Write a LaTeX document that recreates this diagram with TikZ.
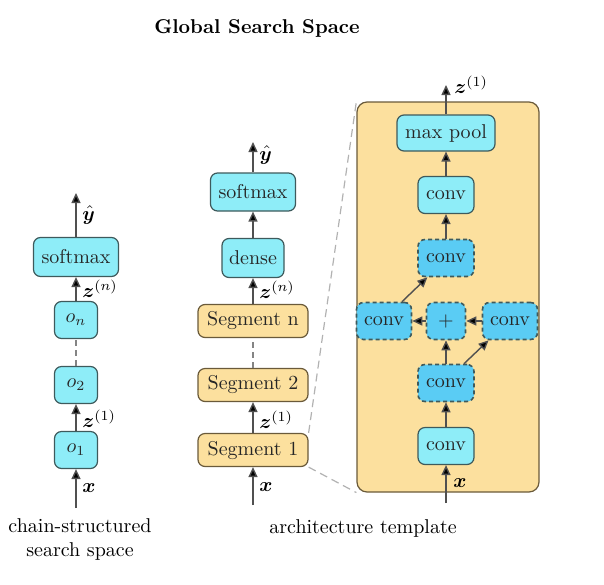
\documentclass[tikz,border=0pt]{standalone}
\usepackage{amsmath,bm}
\usetikzlibrary{arrows.meta,calc}
\definecolor{cyanc}{HTML}{8EEDF8}
\definecolor{bluec}{HTML}{5ACCF4}
\definecolor{orangec}{HTML}{FCE09E}
\definecolor{bordc}{HTML}{3E5A5C}
\definecolor{segbord}{HTML}{6A5A3A}
\definecolor{linec}{HTML}{505050}
\tikzset{
  base/.style={rounded corners=3.5pt, draw=bordc, line width=0.6pt, inner sep=2pt, minimum height=18.5pt, text=black!85},
  op/.style={base, fill=cyanc},
  dop/.style={base, fill=bluec, dashed, dash pattern=on 2pt off 1.5pt, line width=0.8pt},
  seg/.style={base, fill=orangec, draw=segbord, minimum height=16.5pt, minimum width=55pt},
  conn/.style={draw=linec, line width=0.7pt, -{Triangle[length=5pt,width=4.5pt,fill=black]}},
  dconn/.style={draw=linec!70, line width=0.7pt, dashed, dash pattern=on 3pt off 2pt},
  zoomline/.style={draw=gray!60, line width=0.6pt, dashed, dash pattern=on 4pt off 2.5pt},
  lab/.style={anchor=west, inner sep=0pt}
}
\begin{document}
\begin{tikzpicture}[x=0.5pt,y=-0.5pt]
\useasboundingbox (0,0) rectangle (604,584);
\node[font=\bfseries] (title) at (257,28) {Global Search Space};

% left column
\coordinate (lx) at (76,508);
\node[op, minimum width=21.5pt] (o1) at (76,450) {$o_1$};
\node[op, minimum width=21.5pt] (o2) at (76,385) {$o_2$};
\node[op, minimum width=21.5pt] (on) at (76,320) {$o_n$};
\node[op, minimum width=42.5pt, minimum height=19.5pt] (lsm) at (76,257) {softmax};
\coordinate (ly) at (76,193);
\draw[conn] (lx) -- (o1);
\draw[conn] (o1) -- (o2);
\draw[dconn] (o2) -- (on);
\draw[conn] (on) -- (lsm);
\draw[conn] (lsm) -- (ly);
\node[lab] (lxl) at (82,488) {$\bm{x}$};
\node[lab] (lz1) at (82,419) {$\bm{z}^{(1)}$};
\node[lab] (lzn) at (82,289) {$\bm{z}^{(n)}$};
\node[lab] (lyl) at (82,215) {$\hat{\bm{y}}$};
\node[align=center] (cap1) at (80,539) {chain-structured\\search space};

% middle column
\coordinate (mx) at (253,505);
\node[seg] (seg1) at (253,450) {Segment 1};
\node[seg] (seg2) at (253,385) {Segment 2};
\node[seg] (segn) at (253,321) {Segment n};
\node[op, minimum width=31pt, minimum height=19.5pt] (dense) at (253,258) {dense};
\node[op, minimum width=42.5pt, minimum height=19pt] (msm) at (253,192) {softmax};
\coordinate (my) at (253,142);
\draw[conn] (mx) -- (seg1);
\draw[conn] (seg1) -- (seg2);
\draw[dconn] (seg2) -- (segn);
\draw[conn] (segn) -- (dense);
\draw[conn] (dense) -- (msm);
\draw[conn] (msm) -- (my);
\node[lab] (mxl) at (259,487) {$\bm{x}$};
\node[lab] (mz1) at (259,420) {$\bm{z}^{(1)}$};
\node[lab] (mzn) at (259,290) {$\bm{z}^{(n)}$};
\node[lab] (myl) at (259,155) {$\hat{\bm{y}}$};
\node (cap2) at (363,528) {architecture template};

% template box
\node[draw=segbord, line width=0.6pt, fill=orangec, rounded corners=5pt, minimum width=91pt, minimum height=195pt, inner sep=0pt] (tmpl) at (448,297) {};
\draw[zoomline] (seg1.north east) -- (tmpl.north west);
\draw[zoomline] (seg1.south east) -- (tmpl.south west);

\coordinate (bx) at (446,503);
\node[op, minimum width=28pt] (c1) at (446,446) {conv};
\node[dop, minimum width=28pt] (c2) at (446,383) {conv};
\node[dop, minimum width=19.5pt] (plus) at (446,321) {$+$};
\node[dop, minimum width=27.5pt] (cl) at (384,321) {conv};
\node[dop, minimum width=27.5pt] (cr) at (510,321) {conv};
\node[dop, minimum width=28pt] (c3) at (446,258) {conv};
\node[op, minimum width=28pt] (c4) at (446,195) {conv};
\node[op, minimum width=49pt, minimum height=18pt] (mp) at (446,133) {max pool};
\coordinate (bz) at (446,85);
\draw[conn] (bx) -- (c1);
\draw[conn] (c1) -- (c2);
\draw[conn] (c2) -- (plus);
\draw[conn] (c2.47) -- (cr.222);
\draw[conn] (cr) -- (plus);
\draw[conn] (plus) -- (cl);
\draw[conn] (cl.47) -- (c3.226);
\draw[conn] (c3) -- (c4);
\draw[conn] (c4) -- (mp);
\draw[conn] (mp) -- (bz);
\node[lab] (bxl) at (453,483) {$\bm{x}$};
\node[lab] (bzl) at (454,85) {$\bm{z}^{(1)}$};
\end{tikzpicture}
\end{document}
